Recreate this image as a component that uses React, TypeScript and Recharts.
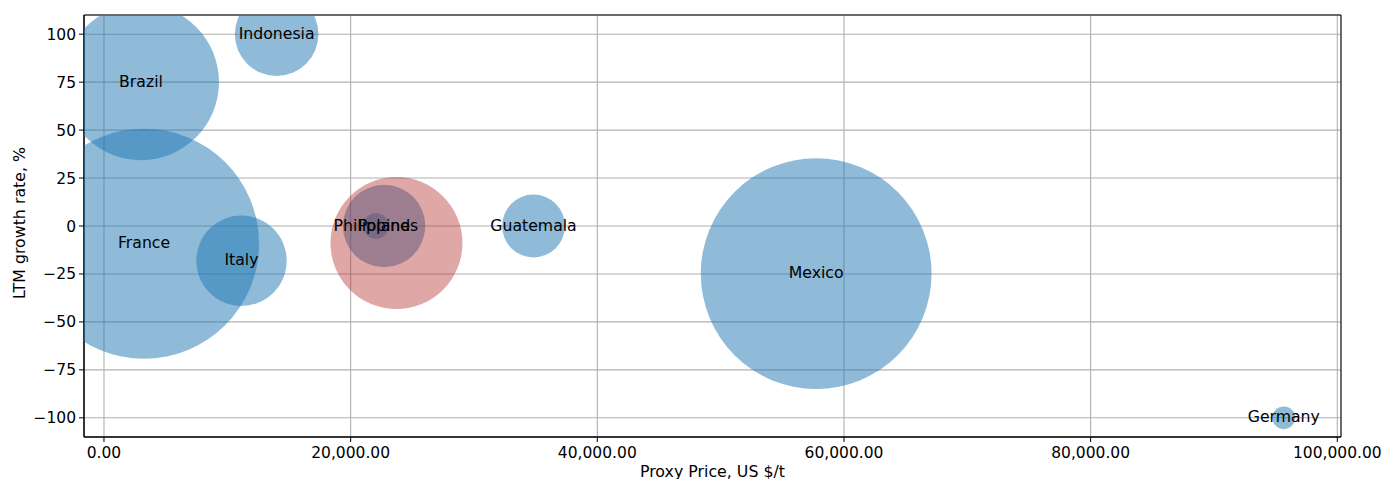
import React from 'react';
import {
  ScatterChart,
  Scatter,
  XAxis,
  YAxis,
  ZAxis,
  CartesianGrid,
  ReferenceArea,
  Label,
} from 'recharts';

// ---- data ----
const countries = ['Brazil', 'Indonesia', 'France', 'Italy', 'Philippines', 'Poland', 'Guatemala', 'Mexico', 'Germany'];
const proxyPrice = [3000, 14000, 3250, 11150, 22040, 22710, 34830, 57745, 95660];
const growthRate = [75, 100, -9.2, -18.1, 0, 0, 0, -24.8, -100];
const volume = [6084, 1747, 13225, 2043, 164, 1697, 986, 13317, 128];

const highlightPrice = [23715];
const highlightGrowth = [-8.9];
const highlightVolume = [4356];

const xTicks = [0, 20000, 40000, 60000, 80000, 100000];
const yTicks = [-100, -75, -50, -25, 0, 25, 50, 75, 100];
const xDomain: [number, number] = [-1620, 100300];
const yDomain: [number, number] = [-110, 110];
const zDomain: [number, number] = [0, 14000];

const blueData = countries.map((name, i) => ({
  name,
  x: proxyPrice[i],
  y: growthRate[i],
  z: volume[i],
}));
const redData = highlightPrice.map((x, i) => ({
  name: '',
  x,
  y: highlightGrowth[i],
  z: highlightVolume[i],
}));

const FONT = 'DejaVu Sans';

const fmtX = (v: number) =>
  v.toLocaleString('en-US', { minimumFractionDigits: 2, maximumFractionDigits: 2 });
const fmtY = (v: number) => (v < 0 ? '\u2212' + Math.abs(v) : String(v));

const radiusOf = (props: any) =>
  props.size ? Math.sqrt(props.size / Math.PI) : (props.width || 0) / 2;

const makeBubble = (color: string, opacity: number) => (props: any) => {
  const { cx, cy } = props;
  if (cx == null || cy == null) return <g />;
  return <circle cx={cx} cy={cy} r={radiusOf(props)} fill={color} fillOpacity={opacity} />;
};

const BlueBubble = makeBubble('#1f77b4', 0.5);
const RedBubble = makeBubble('#b22222', 0.4);

const LabelShape = (props: any) => {
  const { cx, cy, payload } = props;
  if (cx == null || cy == null) return <g />;
  return (
    <text
      x={cx}
      y={cy - 1}
      textAnchor="middle"
      dominantBaseline="central"
      fill="#000"
      fontSize={15.7}
      fontFamily={FONT}
    >
      {payload.name}
    </text>
  );
};

const XTitle = (props: any) => {
  const vb = props.viewBox || { x: 0, y: 0, width: 0, height: 0 };
  return (
    <text
      x={vb.x + vb.width / 2}
      y={vb.y + 39.5}
      textAnchor="middle"
      fill="#000"
      fontSize={15.8}
      fontFamily={FONT}
    >
      Proxy Price, US $/t
    </text>
  );
};

const YTitle = (props: any) => {
  const vb = props.viewBox || { x: 0, y: 0, width: 0, height: 0 };
  const x = vb.x + 19;
  const y = vb.y + vb.height / 2 - 3;
  return (
    <text
      x={x}
      y={y}
      transform={`rotate(-90, ${x}, ${y})`}
      textAnchor="middle"
      dominantBaseline="central"
      fill="#000"
      fontSize={15.8}
      fontFamily={FONT}
    >
      LTM growth rate, %
    </text>
  );
};

const tickStyle = { fill: '#000', fontSize: 15.5, fontFamily: FONT };

export default function App() {
  return (
    <div style={{ position: 'absolute', left: 0, top: 0, fontFamily: FONT }}>
      <ScatterChart width={1386} height={479} margin={{ top: 15, right: 45, bottom: 0, left: 0 }}>
        <XAxis
          type="number"
          dataKey="x"
          domain={xDomain}
          ticks={xTicks}
          interval={0}
          allowDataOverflow
          tickFormatter={fmtX}
          tick={tickStyle}
          tickLine={{ stroke: '#000', strokeWidth: 1 }}
          axisLine={{ stroke: '#000', strokeWidth: 1 }}
          tickSize={5}
          tickMargin={5}
          height={42}
        >
          <Label content={XTitle} />
        </XAxis>
        <YAxis
          type="number"
          dataKey="y"
          domain={yDomain}
          ticks={yTicks}
          interval={0}
          allowDataOverflow
          tickFormatter={fmtY}
          tick={tickStyle}
          tickLine={{ stroke: '#000', strokeWidth: 1 }}
          axisLine={{ stroke: '#000', strokeWidth: 1 }}
          tickSize={5}
          tickMargin={3}
          width={84}
        >
          <Label content={YTitle} />
        </YAxis>
        <ZAxis type="number" dataKey="z" domain={zDomain} range={[0, zDomain[1] * Math.PI]} />
        <Scatter data={blueData} shape={BlueBubble} isAnimationActive={false} />
        <Scatter data={redData} shape={RedBubble} isAnimationActive={false} />
        <CartesianGrid stroke="#b0b0b0" strokeWidth={1.1} />
        <Scatter data={blueData} shape={LabelShape} isAnimationActive={false} />
        <ReferenceArea
          x1={xDomain[0]}
          x2={xDomain[1]}
          y1={yDomain[0]}
          y2={yDomain[1]}
          fill="none"
          fillOpacity={0}
          stroke="#000"
          strokeWidth={1}
        />
      </ScatterChart>
    </div>
  );
}
